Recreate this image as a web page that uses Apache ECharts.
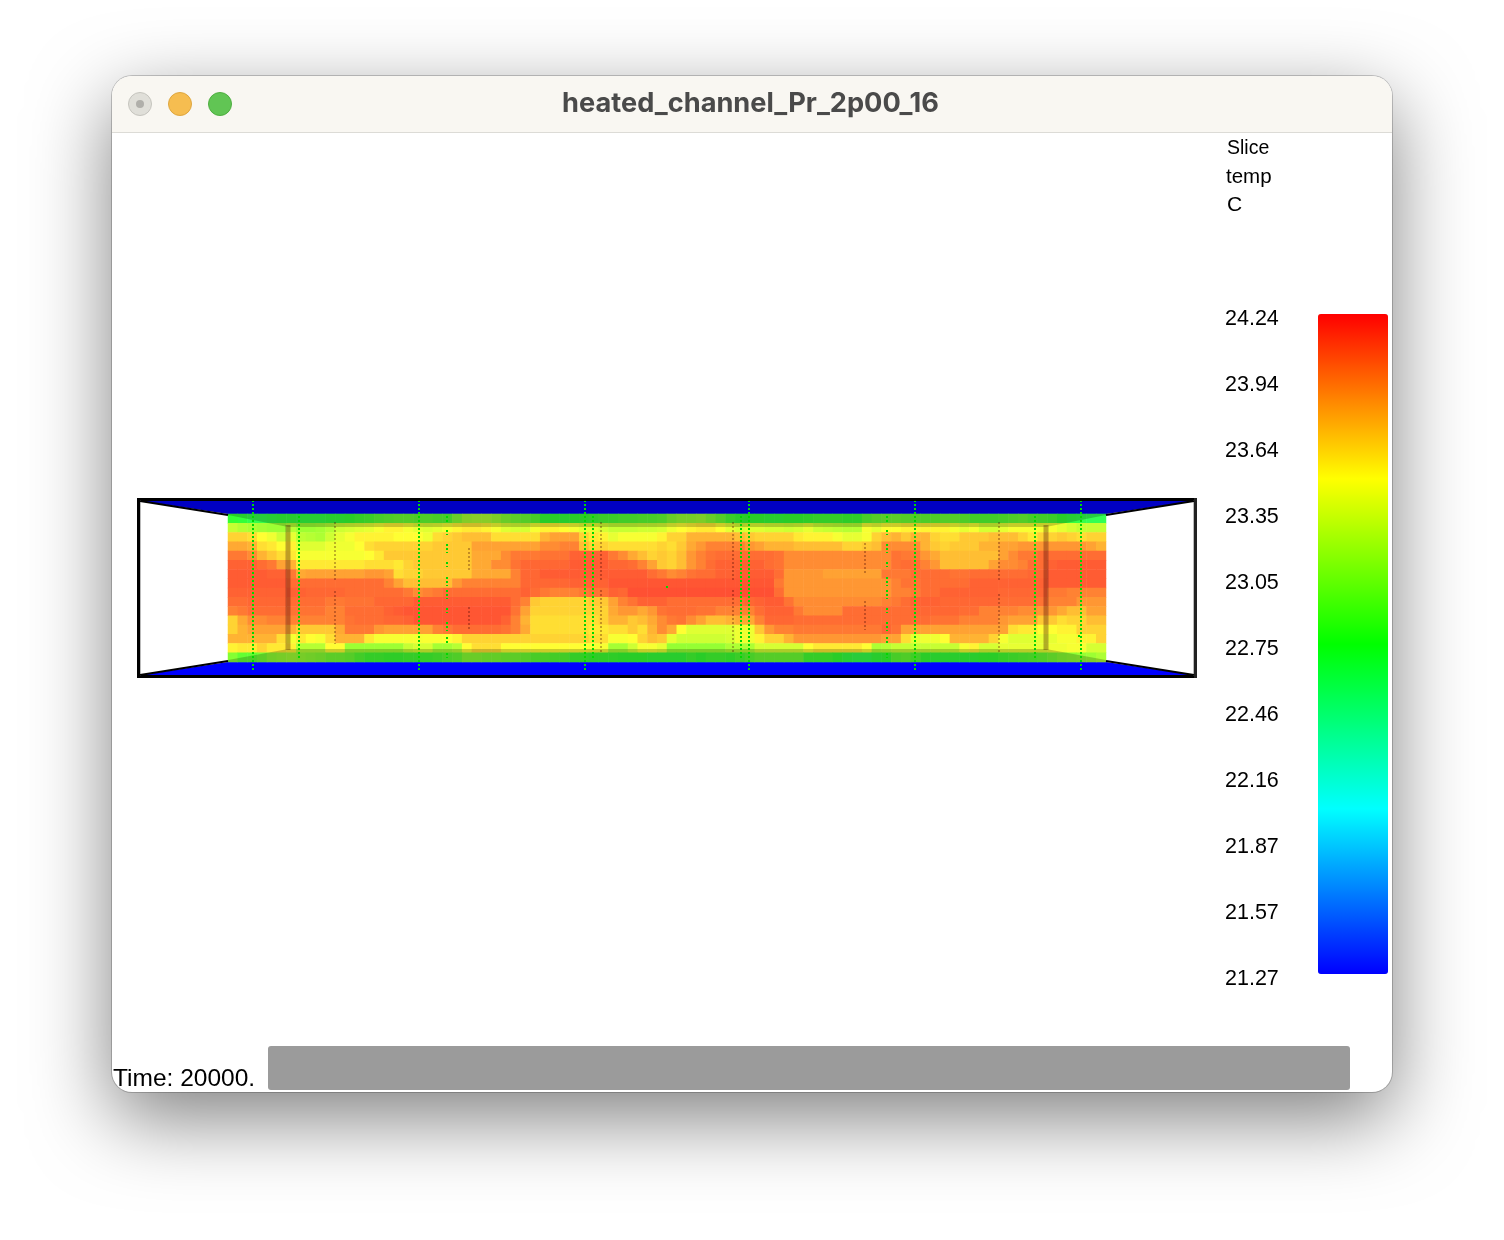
<!DOCTYPE html>
<html>
<head>
<meta charset="utf-8">
<title>heated_channel_Pr_2p00_16</title>
<script src="https://cdn.jsdelivr.net/npm/echarts@6/dist/echarts.min.js"></script>
<style>
html,body{margin:0;padding:0;background:#fff;width:1504px;height:1240px;overflow:hidden}
#win{position:absolute;left:112px;top:76px;width:1280px;height:1016px;background:#fff;border-radius:20px;overflow:hidden;
	box-shadow:0 0 0 1px rgba(0,0,0,.2),0 26px 80px 0 rgba(0,0,0,.5)}
#bar{height:56px;background:#f9f7f2;border-bottom:1px solid #dcdbd6}
.btn{position:absolute;top:16px;width:22px;height:22px;border-radius:50%;border:1px solid}
.dot{position:absolute;left:7px;top:7px;width:8px;height:8px;border-radius:50%;background:#b0afaa}
#chart{position:absolute;left:0;top:0;width:1504px;height:1240px}
</style>
</head>
<body>
<div id="win">
	<div id="bar">
		<div class="btn" style="left:16px;background:#e0dfd9;border-color:#c5c4be"><div class="dot"></div></div>
		<div class="btn" style="left:56px;background:#f6bd50;border-color:#dea63f"></div>
		<div class="btn" style="left:96px;background:#61c554;border-color:#4fae41"></div>
	</div>
</div>
<div id="chart"></div>
<script>
var windowTitle = 'heated_channel_Pr_2p00_16';
var headerLabels = ['Slice', 'temp', 'C'];
var timeLabel = 'Time: 20000.';
var tickLabels = ['24.24', '23.94', '23.64', '23.35', '23.05', '22.75', '22.46', '22.16', '21.87', '21.57', '21.27'];
var tempMin = 21.27;
var tempMax = 24.24;
var rainbow = ['#0000ff', '#00ffff', '#00ff00', '#ffff00', '#ff0000'];
var sliceColors = ['#3333ff', '#3399ff', '#33ffff', '#33ff99', '#33ff33', '#99ff33', '#ffff33', '#ff7b33', '#ff3333'];

// slice temperature, one list per cell row from top to bottom
var row01 = [22.76,22.73,22.67,22.67,22.70,22.73,22.73,22.70,22.70,22.70,22.73,22.73,22.76,22.81,22.84,22.90,22.93,22.96,22.96,22.93,22.93,22.90,22.90,23.05,23.17,23.20,23.20,23.14,23.05,22.99,22.96,22.90,22.76,22.76,22.73,22.76,22.78,22.81,22.84,22.84,22.87,22.87,22.90,22.90,22.93,23.05,23.11,23.11,23.14,23.05,22.96,22.84,22.78,22.76,22.76,22.73,22.73,22.76,22.76,22.78,22.81,22.81,22.81,22.78,22.78,22.90,22.96,22.99,22.99,22.96,22.96,22.93,22.93,22.96,22.96,22.93,22.87,22.87,22.87,22.90,22.93,22.96,22.90,22.87,22.84,22.76,22.70,22.67,22.64,22.64];
var row02 = [23.29,23.23,23.20,23.17,23.14,23.14,23.23,23.14,23.14,23.17,23.23,23.32,23.35,23.38,23.41,23.47,23.53,23.53,23.47,23.41,23.38,23.41,23.47,23.53,23.56,23.56,23.53,23.47,23.38,23.35,23.35,23.47,23.53,23.53,23.50,23.47,23.41,23.41,23.35,23.29,23.29,23.29,23.32,23.32,23.35,23.44,23.50,23.53,23.56,23.56,23.50,23.41,23.35,23.38,23.38,23.35,23.35,23.32,23.35,23.41,23.32,23.29,23.26,23.23,23.23,23.47,23.41,23.50,23.50,23.53,23.53,23.53,23.53,23.53,23.47,23.41,23.47,23.35,23.35,23.41,23.47,23.47,23.47,23.47,23.47,23.41,23.35,23.29,23.29,23.29];
var row03 = [23.62,23.62,23.59,23.50,23.44,23.32,23.41,23.26,23.23,23.20,23.32,23.41,23.47,23.53,23.53,23.53,23.53,23.50,23.50,23.50,23.44,23.59,23.62,23.65,23.68,23.68,23.68,23.59,23.59,23.59,23.59,23.59,23.71,23.76,23.76,23.76,23.62,23.56,23.53,23.41,23.47,23.47,23.47,23.47,23.53,23.62,23.62,23.71,23.71,23.71,23.71,23.71,23.68,23.65,23.62,23.62,23.62,23.62,23.56,23.53,23.53,23.53,23.47,23.41,23.41,23.47,23.62,23.68,23.71,23.65,23.71,23.71,23.62,23.59,23.59,23.65,23.65,23.65,23.68,23.68,23.68,23.62,23.56,23.62,23.62,23.65,23.62,23.59,23.62,23.62];
var row04 = [23.74,23.74,23.71,23.59,23.56,23.50,23.53,23.38,23.38,23.38,23.44,23.44,23.44,23.50,23.59,23.62,23.62,23.62,23.62,23.62,23.62,23.65,23.65,23.65,23.65,23.76,23.76,23.76,23.76,23.76,23.76,23.76,23.82,23.82,23.85,23.85,23.68,23.62,23.62,23.59,23.59,23.59,23.59,23.59,23.62,23.59,23.65,23.74,23.79,23.85,23.85,23.85,23.85,23.79,23.76,23.71,23.71,23.71,23.68,23.68,23.68,23.68,23.68,23.62,23.62,23.65,23.68,23.82,23.82,23.82,23.82,23.71,23.65,23.62,23.65,23.65,23.65,23.71,23.71,23.76,23.76,23.79,23.79,23.79,23.79,23.79,23.79,23.79,23.76,23.71];
var row05 = [23.88,23.88,23.82,23.71,23.65,23.59,23.56,23.47,23.47,23.47,23.47,23.47,23.47,23.47,23.50,23.56,23.65,23.65,23.65,23.65,23.65,23.65,23.65,23.65,23.65,23.74,23.74,23.74,23.82,23.88,23.88,23.88,23.91,23.91,23.91,24.00,24.00,24.00,24.00,23.88,23.82,23.74,23.68,23.62,23.65,23.62,23.68,23.79,23.85,23.91,23.94,23.94,23.94,23.94,23.94,23.94,23.91,23.82,23.82,23.82,23.82,23.82,23.82,23.82,23.82,23.82,23.82,23.82,23.91,23.88,23.88,23.79,23.74,23.68,23.68,23.68,23.68,23.68,23.68,23.76,23.82,23.88,23.88,23.94,23.94,23.94,23.94,23.94,23.94,23.94];
var row06 = [24.00,24.00,24.00,23.94,23.88,23.76,23.71,23.56,23.56,23.56,23.56,23.56,23.56,23.56,23.59,23.59,23.59,23.56,23.62,23.65,23.65,23.65,23.65,23.65,23.65,23.74,23.74,23.82,23.82,23.91,23.97,23.97,23.97,23.97,23.97,24.03,24.03,24.03,24.03,23.97,23.97,23.94,23.85,23.76,23.65,23.62,23.68,23.79,23.85,23.94,24.00,24.00,24.00,24.00,24.00,23.94,23.91,23.82,23.82,23.82,23.82,23.82,23.82,23.82,23.82,23.82,23.82,23.82,23.91,23.94,23.94,23.85,23.79,23.68,23.68,23.68,23.68,23.68,23.76,23.82,23.82,23.85,23.94,23.94,24.00,24.03,24.03,24.03,24.03,24.03];
var row07 = [24.03,24.03,24.03,24.03,24.00,24.00,23.88,23.74,23.76,23.76,23.76,23.76,23.76,23.76,23.79,23.79,23.76,23.59,23.62,23.62,23.65,23.65,23.65,23.65,23.65,23.74,23.74,23.74,23.74,23.85,23.97,23.97,24.03,24.03,24.03,24.03,24.03,24.03,24.03,24.03,24.03,24.03,24.03,23.94,23.88,23.82,23.85,23.91,23.94,23.94,24.00,24.00,24.03,24.03,24.03,24.03,23.94,23.79,23.79,23.79,23.79,23.76,23.76,23.76,23.76,23.76,23.76,23.88,23.88,23.88,23.94,23.94,23.94,23.94,23.91,23.91,23.94,23.94,23.94,23.94,23.94,23.94,23.97,23.97,24.03,24.03,24.03,24.03,24.03,24.03];
var row08 = [24.03,24.03,24.03,24.03,24.03,24.03,23.94,23.94,23.94,23.94,23.94,23.94,23.94,23.94,23.94,23.94,23.85,23.76,23.68,23.68,23.68,23.68,23.68,23.79,23.85,23.85,23.85,23.85,23.85,23.85,23.97,23.97,23.97,23.97,23.97,24.00,24.00,24.00,24.00,24.06,24.06,24.06,24.06,24.06,24.06,24.06,24.06,24.06,24.06,24.06,24.06,24.06,24.06,24.06,24.06,24.06,23.88,23.79,23.79,23.79,23.79,23.79,23.79,23.79,23.79,23.79,23.79,23.79,23.85,23.91,23.91,23.94,23.94,23.94,23.94,23.94,24.00,24.00,24.00,24.00,24.00,24.00,24.00,24.00,24.03,24.03,24.03,24.03,24.03,24.03];
var row09 = [24.00,24.00,24.00,24.00,24.00,24.00,24.00,24.00,23.97,23.97,23.97,23.97,23.94,23.94,23.94,23.94,23.94,23.94,23.88,23.82,23.85,23.88,23.94,23.94,23.94,23.94,23.94,23.94,23.94,23.94,24.00,23.94,23.88,23.85,23.85,23.85,23.88,23.91,23.91,24.00,23.97,24.09,24.09,24.09,24.09,24.09,24.09,24.09,24.09,24.09,24.09,24.09,24.09,24.09,24.09,24.09,23.94,23.79,23.79,23.79,23.79,23.79,23.79,23.79,23.79,23.79,23.79,23.79,23.85,23.85,23.88,23.94,23.94,24.00,24.00,24.00,24.00,24.00,24.00,23.97,23.97,23.97,23.97,23.97,23.88,23.88,23.85,23.85,23.85,23.85];
var row10 = [23.94,23.94,23.97,23.97,23.97,23.97,23.94,23.94,23.94,23.94,23.88,23.88,23.91,23.91,23.91,23.97,23.97,23.97,23.97,24.03,24.03,24.03,24.03,24.03,24.03,24.03,24.03,24.03,24.03,23.94,23.85,23.65,23.62,23.62,23.62,23.62,23.62,23.65,23.65,23.76,23.85,23.91,24.00,24.00,24.00,23.94,23.94,23.94,23.94,23.94,23.94,23.94,23.94,23.97,24.00,24.03,24.03,23.91,23.82,23.82,23.82,23.82,23.82,23.82,23.82,23.82,23.82,23.85,23.88,23.94,24.00,24.00,24.00,23.97,23.97,23.97,23.97,23.97,23.97,23.94,23.94,23.94,23.94,23.91,23.85,23.85,23.85,23.79,23.79,23.79];
var row11 = [23.85,23.88,23.94,23.94,23.94,23.94,23.91,23.91,23.91,23.91,23.85,23.85,23.94,23.94,23.94,23.94,24.00,24.03,24.06,24.06,24.06,24.06,24.06,24.06,24.06,24.06,24.06,24.06,24.06,23.91,23.76,23.62,23.62,23.62,23.62,23.62,23.62,23.62,23.62,23.74,23.79,23.79,23.74,23.79,23.91,23.94,23.94,23.94,23.91,23.91,23.85,23.85,23.85,23.85,23.94,24.00,24.00,24.00,23.88,23.82,23.82,23.82,23.82,23.94,23.94,23.94,23.94,23.94,23.94,23.94,23.97,23.97,23.97,23.97,23.97,23.94,23.94,23.85,23.85,23.85,23.85,23.82,23.82,23.79,23.79,23.74,23.68,23.68,23.76,23.76];
var row12 = [23.62,23.74,23.82,23.82,23.85,23.85,23.85,23.85,23.85,23.85,23.85,23.85,23.91,23.94,23.94,23.94,23.97,23.97,24.00,24.06,24.06,24.06,24.06,24.06,24.06,24.06,24.06,24.06,24.00,23.85,23.71,23.59,23.59,23.59,23.59,23.59,23.59,23.59,23.62,23.71,23.71,23.65,23.68,23.74,23.82,23.88,23.91,23.82,23.76,23.68,23.68,23.71,23.74,23.74,23.85,23.97,23.97,23.97,23.94,23.94,23.94,23.94,23.94,23.94,23.94,23.94,23.94,23.94,23.94,23.94,23.94,23.94,23.91,23.91,23.91,23.85,23.85,23.85,23.85,23.79,23.76,23.76,23.76,23.65,23.65,23.59,23.62,23.62,23.68,23.68];
var row13 = [23.62,23.71,23.76,23.76,23.76,23.76,23.71,23.65,23.65,23.65,23.65,23.74,23.88,23.88,23.88,23.79,23.76,23.76,23.76,23.76,23.76,23.85,23.88,23.94,23.94,23.94,23.94,23.94,23.91,23.85,23.74,23.59,23.59,23.59,23.59,23.59,23.59,23.56,23.56,23.59,23.59,23.65,23.59,23.71,23.82,23.74,23.50,23.38,23.38,23.38,23.38,23.38,23.44,23.44,23.65,23.79,23.85,23.85,23.88,23.88,23.88,23.88,23.88,23.88,23.88,23.88,23.88,23.97,23.91,23.76,23.76,23.76,23.76,23.76,23.76,23.76,23.76,23.76,23.76,23.76,23.59,23.56,23.56,23.50,23.50,23.53,23.53,23.62,23.62,23.62];
var row14 = [23.71,23.71,23.71,23.71,23.71,23.59,23.47,23.56,23.50,23.47,23.59,23.71,23.71,23.71,23.56,23.47,23.47,23.47,23.47,23.47,23.48,23.48,23.50,23.53,23.62,23.62,23.62,23.62,23.62,23.62,23.62,23.62,23.62,23.62,23.62,23.62,23.62,23.59,23.59,23.47,23.47,23.50,23.62,23.68,23.65,23.41,23.32,23.32,23.32,23.32,23.32,23.35,23.44,23.44,23.53,23.62,23.62,23.71,23.79,23.79,23.79,23.79,23.79,23.79,23.79,23.79,23.79,23.76,23.76,23.59,23.41,23.44,23.44,23.50,23.71,23.71,23.71,23.71,23.62,23.47,23.38,23.38,23.38,23.41,23.41,23.47,23.47,23.53,23.53,23.62];
var row15 = [23.53,23.56,23.56,23.62,23.56,23.56,23.53,23.23,23.23,23.23,23.50,23.50,23.14,23.14,23.14,23.14,23.14,23.14,23.29,23.35,23.35,23.17,23.17,23.23,23.50,23.59,23.59,23.59,23.50,23.50,23.50,23.50,23.50,23.50,23.50,23.50,23.50,23.47,23.47,23.17,23.17,23.32,23.47,23.47,23.41,23.11,23.11,23.11,23.11,23.11,23.11,23.20,23.20,23.20,23.35,23.35,23.35,23.35,23.35,23.50,23.56,23.56,23.56,23.56,23.56,23.50,23.20,23.23,23.29,23.29,23.29,23.29,23.29,23.29,23.29,23.47,23.53,23.35,23.35,23.41,23.41,23.41,23.41,23.41,23.44,23.44,23.47,23.47,23.35,23.35];
var row16 = [23.05,22.93,22.93,22.99,23.08,23.11,23.14,23.11,23.08,23.05,22.99,22.99,22.96,22.87,22.81,22.81,22.78,22.78,22.81,22.81,22.81,22.84,22.90,22.93,23.05,23.05,23.02,23.02,22.99,22.99,22.96,22.90,22.90,22.87,22.87,22.81,22.81,22.78,22.78,22.78,22.76,22.76,22.76,22.73,22.73,22.73,22.73,22.81,22.76,22.81,22.81,22.78,22.84,22.90,22.96,22.96,22.96,22.96,22.96,22.81,22.81,22.81,22.76,22.70,22.67,22.67,22.73,22.76,22.90,22.93,22.87,22.76,22.73,22.73,22.73,22.73,22.73,22.76,22.76,22.81,22.84,22.87,22.90,22.93,22.99,23.05,23.08,23.11,23.14,23.20];
var rows = [row01, row02, row03, row04, row05, row06, row07, row08, row09, row10, row11, row12, row13, row14, row15, row16];

// vertical probes over the slice, as [column, first row, last row], both in cell units
var longProbes = [[2.56,-1.5,17],[19.58,-1.5,17],[36.6,-1.5,17],[53.41,-1.5,17],[70.43,-1.5,17],[87.44,-1.5,17]];
var midProbes = [[7.28,0.2,15.8],[37.42,0.2,15.8],[52.59,0.2,15.8],[82.73,0.2,15.8],[45,7.8,8.15],[87.24,13.1,13.5]];
var gapSpans = [[0.22,0.86],[1.73,2.27],[3.24,4.22],[5.19,5.73],[6.81,7.78],[8.22,9.19],[10.16,10.7],[11.68,12.65],[13.3,14.16],[15.05,15.6]];
var gapColumns = [22.45, 67.55];
var dimProbes = [[10.97,0.9,7.1],[10.97,8.3,14.1],[24.7,3.7,6.1],[24.7,10,12.4],[38.24,0.9,7.4],[38.24,8.2,15],[51.77,0.9,7.4],[51.77,8.2,15],[65.3,3.1,6.4],[65.3,9.4,12.5],[79.04,0.9,7.3],[79.04,8.7,15]];
var bands = [[6.2,1.2,14.7],[83.86,1.2,14.7]];

var cols = rows[0].map(function(v, i){ return i; });
var rowIdx = rows.map(function(v, i){ return i; });
var cells = [];
rows.forEach(function(row, r){
	row.forEach(function(v, c){ cells.push([c, r, v]); });
});
var gapProbes = [];
gapColumns.forEach(function(c){
	gapSpans.forEach(function(s){ gapProbes.push([c, s[0], s[1]]); });
});

function vline(color, width, dash, z){
	return function(data){
		return {
			type: 'custom',
			xAxisIndex: 1,
			yAxisIndex: 1,
			coordinateSystem: 'cartesian2d',
			z: z,
			silent: true,
			clip: false,
			data: data,
			renderItem: function(params, api){
				var a = api.coord([api.value(0), api.value(1)]);
				var b = api.coord([api.value(0), api.value(2)]);
				var x = Math.round(a[0]);
				// snap to whole pixels so the dots stay crisp
				return {
					type: 'line',
					shape: {x1: x, y1: Math.round(a[1]), x2: x, y2: Math.round(b[1])},
					style: {stroke: color, lineWidth: width, lineDash: dash, fill: null}
				};
			}
		};
	};
}

function poly(points, fill, z){
	return {type: 'polygon', silent: true, z: z, shape: {points: points}, style: {fill: fill}};
}
function seg(x1, y1, x2, y2, color, w){
	return {type: 'line', silent: true, z: 20, shape: {x1: x1, y1: y1, x2: x2, y2: y2}, style: {stroke: color, lineWidth: w}};
}
function label(text, x, y, size){
	return {type: 'text', silent: true, z: 20, x: x, y: y, style: {text: text, fill: '#000', font: size + 'px "Liberation Sans"', textVerticalAlign: 'middle'}};
}

var chart = echarts.init(document.getElementById('chart'), null, {renderer: 'canvas'});
var option = {
	animation: false,
	backgroundColor: 'transparent',
	grid: [
		{left: 228, top: 514, width: 878, height: 148},
		{left: 228, top: 514, width: 878, height: 148},
		{left: 1318, top: 319, width: 70, height: 660}
	],
	xAxis: [
		{type: 'category', gridIndex: 0, data: cols, show: false},
		{type: 'value', gridIndex: 1, min: 0, max: 90, show: false},
		{type: 'value', gridIndex: 2, min: 0, max: 1, show: false}
	],
	yAxis: [
		{type: 'category', gridIndex: 0, data: rowIdx, inverse: true, show: false},
		{type: 'value', gridIndex: 1, min: 0, max: 16, inverse: true, show: false},
		{
			type: 'category',
			gridIndex: 2,
			data: tickLabels,
			inverse: true,
			boundaryGap: false,
			axisLine: {show: false},
			axisTick: {show: false},
			splitLine: {show: false},
			axisLabel: {
				interval: 0,
				margin: 93,
				align: 'left',
				color: '#000',
				fontSize: 21.5,
				fontFamily: 'Liberation Sans'
			}
		}
	],
	visualMap: [
		{
			type: 'continuous',
			seriesIndex: [],
			min: tempMin,
			max: tempMax,
			left: 1318,
			top: 314,
			padding: 0,
			itemWidth: 70,
			itemHeight: 660,
			calculable: false,
			hoverLink: false,
			text: null,
			inRange: {color: rainbow}
		},
		{
			type: 'continuous',
			seriesIndex: 0,
			show: false,
			min: tempMin,
			max: tempMax,
			dimension: 2,
			inRange: {color: sliceColors}
		}
	],
	graphic: {elements: [
		// channel walls and box
		poly([[141,501],[1194,501],[1106,514],[228,514]], '#0000c4', 1),
		poly([[228,662],[1106,662],[1194,675],[141,675]], '#0000ff', 1),
		poly([[228,514],[1106,514],[1106,515],[1046,527],[288,527],[228,515]], 'rgba(0,0,0,0.2)', 3),
		poly([[228,662],[1106,662],[1106,660],[1046,649],[288,649],[228,660]], 'rgba(0,0,0,0.2)', 3),
		seg(137,499.5,1197,499.5,'#000',3),
		seg(137,676.5,1197,676.5,'#000',3),
		seg(138.5,498,138.5,678,'#000',3),
		seg(140.5,500,140.5,676,'#bbb',1),
		seg(1195.5,498,1195.5,678,'#222',3),
		seg(1193.5,500,1193.5,676,'#bbb',1),
		seg(140,501,228,515,'#000',2),
		seg(1194,501,1106,515,'#000',2),
		seg(140,675,228,661,'#000',2),
		seg(1194,675,1106,661,'#000',2),
		// time bar
		{type: 'rect', silent: true, z: 20, shape: {x: 268, y: 1046, width: 1082, height: 44, r: 3}, style: {fill: '#9b9b9b'}},
		label(timeLabel, 113, 1079.5, 24.5),
		label(headerLabels[0], 1227, 149, 19.5),
		label(headerLabels[1], 1226, 177, 20.5),
		label(headerLabels[2], 1227, 205, 21),
		{type: 'text', silent: true, z: 20, x: 750.5, y: 104, style: {text: windowTitle, fill: '#4a4a4a', font: 'bold 27.2px Inter', textAlign: 'center', textVerticalAlign: 'middle'}}
	]},
	series: [
		{
			type: 'heatmap',
			xAxisIndex: 0,
			yAxisIndex: 0,
			data: cells,
			z: 2,
			silent: true,
			progressive: 0,
			itemStyle: {borderWidth: 0}
		},
		vline('rgba(60,0,0,0.32)', 5, null, 4)(bands),
		vline('rgba(60,0,0,0.3)', 2, [2, 2], 4)(dimProbes),
		vline('#00d800', 2, [2, 2], 5)(longProbes),
		vline('#00d800', 2, [2, 2], 5)(midProbes),
		vline('#00d800', 2, [2, 2], 5)(gapProbes)
	]
};
chart.setOption(option);
</script>
</body>
</html>
